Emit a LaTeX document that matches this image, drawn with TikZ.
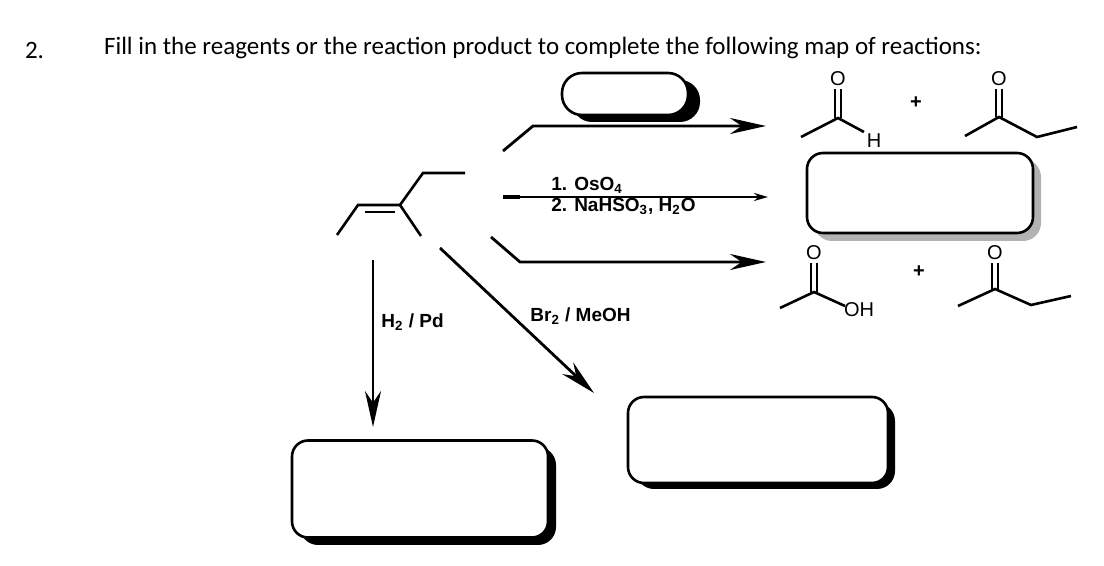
\documentclass[tikz,border=0pt]{standalone}
\usepackage{fontspec}
\setmainfont{Carlito}
\newfontfamily\arial{Liberation Sans}
\usetikzlibrary{arrows.meta}
\begin{document}
\begin{tikzpicture}[x=0.5pt,y=-0.5pt,
  bond/.style={line width=1.3pt},
  rxn/.style={line width=1.4pt,-{Stealth[length=18pt,width=8pt]}},
  ansbox/.style={draw,line width=1.3pt,rounded corners=8pt,fill=white},
  lbl/.style={font=\arial\bfseries\fontsize{9.5}{10}\selectfont,inner sep=0pt},
  chem/.style={font=\arial\fontsize{10}{11}\selectfont,inner sep=0.5pt}]
\useasboundingbox (0,0) rectangle (1104,566);
\node[anchor=west,font=\fontsize{12.5}{14}\selectfont] (num) at (18,50) {2.};
\node[anchor=west,font=\fontsize{12.5}{14}\selectfont] (title) at (97,48) {Fill in the reagents or the reaction product to complete the following map of reactions:};
% alkene
\draw[bond] (337,235) -- (358,205) -- (400,205) -- (423,173) -- (465,173);
\draw[bond] (400,205) -- (421,236);
\draw[bond] (365,212) -- (395,212);
% arrows
\coordinate (t0) at (503,151); \coordinate (t1) at (533,126); \coordinate (t2) at (766,126);
\draw[rxn] (t0) -- (t1) -- (t2);
\coordinate (m0) at (503,197); \coordinate (m1) at (768,197);
\draw[line width=1.1pt,-{Stealth[length=7pt,width=4pt]}] (m0) -- (m1);
\draw[line width=2pt] (503,197) -- (520,197);
\node[lbl,anchor=south west] (os) at (551,194) {1. OsO\textsubscript{4}};
\node[lbl,anchor=north west] (na) at (551,198) {2. NaHSO\textsubscript{3}, H\textsubscript{2}O};
\coordinate (b0) at (491,237); \coordinate (b1) at (520,262); \coordinate (b2) at (766,262);
\draw[rxn] (b0) -- (b1) -- (b2);
\coordinate (d0) at (440,248); \coordinate (d1) at (594,393);
\draw[rxn] (d0) -- (d1);
\node[lbl,anchor=west] (br) at (530,316) {Br\textsubscript{2} / MeOH};
\coordinate (v0) at (373,260); \coordinate (v1) at (373,427);
\draw[rxn] (v0) -- (v1);
\node[lbl,anchor=west] (h2) at (381,322) {H\textsubscript{2} / Pd};
% boxes
\fill[rounded corners=10pt] (572,80) rectangle (700,122);
\draw[line width=1.3pt,fill=white,rounded corners=10pt] (562,73) rectangle (688,115);
\node[inner sep=0pt,minimum width=63pt,minimum height=21pt] (pill) at (625,94) {};
\fill[gray!60,rounded corners=9pt] (814,159) rectangle (1041,241);
\node[ansbox,minimum width=113pt,minimum height=40pt] (mid) at (920,193) {};
\fill[rounded corners=9pt] (300,447) rectangle (556,545);
\node[ansbox,minimum width=128pt,minimum height=48.5pt] (bl) at (420,489) {};
\fill[rounded corners=9pt] (636,403) rectangle (895,489);
\node[ansbox,minimum width=130pt,minimum height=43pt] (br2) at (758,440) {};
% acetaldehyde
\node[chem] (o1) at (838,79) {O};
\node[chem] (h1) at (874,141) {H};
\draw[bond] (801,137) -- (838,118) -- (864,132);
\draw[bond] (835,118) -- (835,89); \draw[bond] (841,118) -- (841,89);
\node[chem,font=\arial\bfseries\fontsize{10}{11}\selectfont] (p1) at (916,103) {+};
% butanone
\node[chem] (o2) at (999,79) {O};
\draw[bond] (965,136) -- (999,117) -- (1037,137) -- (1077,127);
\draw[bond] (996,117) -- (996,89); \draw[bond] (1002,117) -- (1002,89);
% acetic acid
\node[chem] (o3) at (814,253) {O};
\node[chem] (oh) at (859,310) {OH};
\draw[bond] (780,308) -- (814,292) -- (845,306);
\draw[bond] (811,292) -- (811,263); \draw[bond] (817,292) -- (817,263);
\node[chem,font=\arial\bfseries\fontsize{10}{11}\selectfont] (p2) at (919,272) {+};
\node[chem] (o4) at (995,253) {O};
\draw[bond] (958,306) -- (995,289) -- (1031,305) -- (1071,296);
\draw[bond] (992,289) -- (992,263); \draw[bond] (998,289) -- (998,263);
\end{tikzpicture}
\end{document}
